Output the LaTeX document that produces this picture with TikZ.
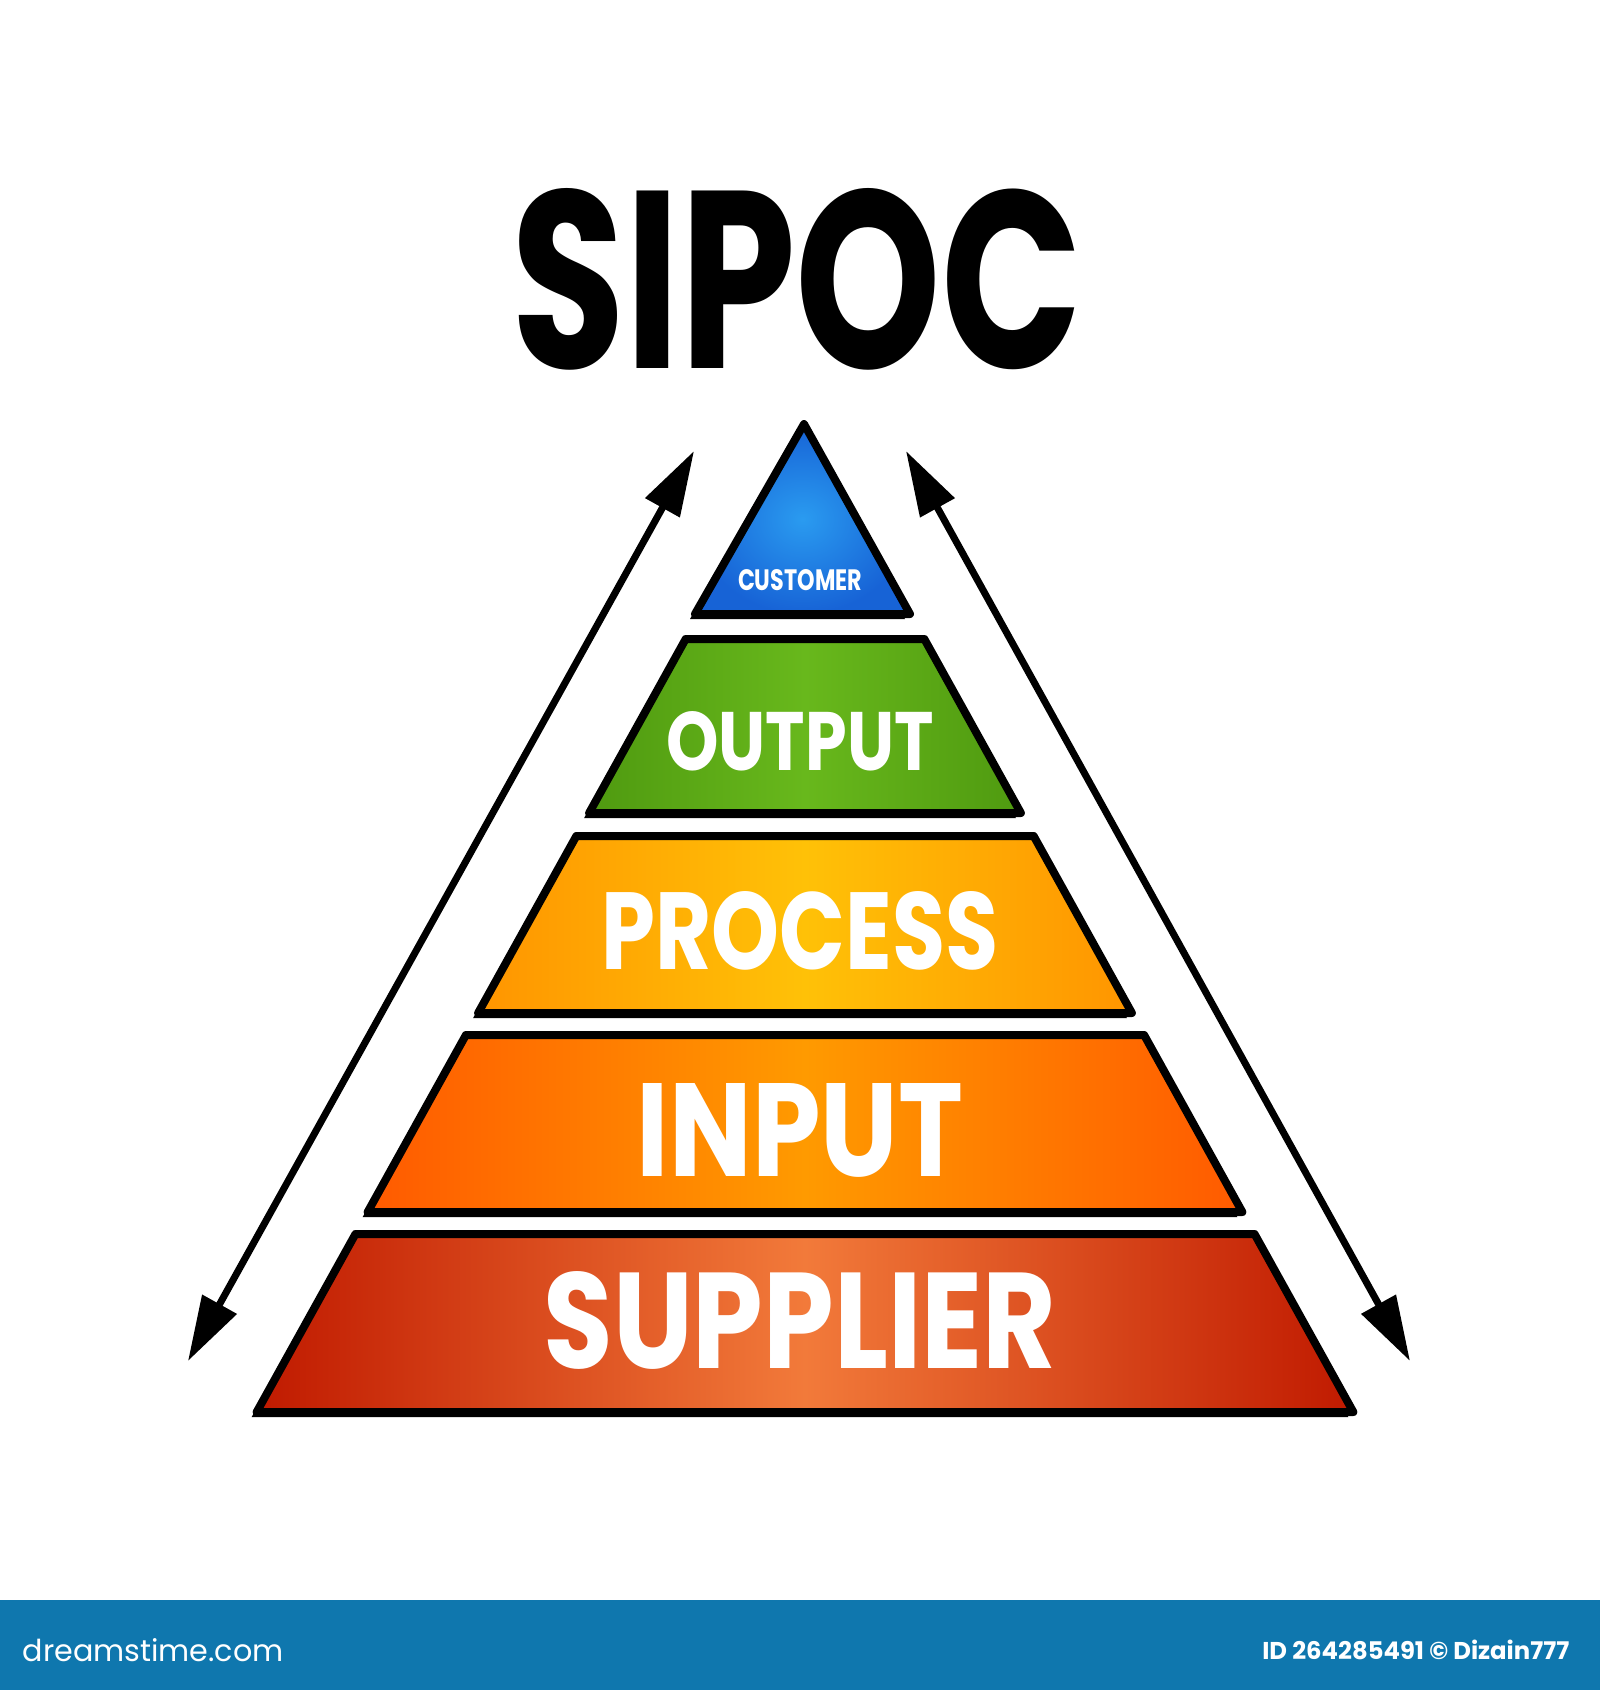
\documentclass[tikz,border=0pt]{standalone}
\usepackage{fontspec}
\setmainfont{Poppins}
\usepackage{graphicx}
\usetikzlibrary{arrows.meta}
\definecolor{barblue}{HTML}{0F77AE}
\definecolor{custlight}{HTML}{2A9BF0}
\definecolor{custdark}{HTML}{1763D6}
\definecolor{outlight}{HTML}{68B81C}
\definecolor{outdark}{HTML}{4F9A10}
\definecolor{proclight}{HTML}{FFC107}
\definecolor{procdark}{HTML}{FF9500}
\definecolor{inplight}{HTML}{FF9A00}
\definecolor{inpdark}{HTML}{FF5A00}
\definecolor{suplight}{HTML}{F27A3A}
\definecolor{supdark}{HTML}{C01A00}
\newlength{\pxunit}
\setlength{\pxunit}{0.1mm}
\newcommand{\fitbox}[3]{\resizebox{#1\pxunit}{#2\pxunit}{#3}}

\begin{document}
\begin{tikzpicture}[x=\pxunit,y=-\pxunit]
  \tikzstyle{layer}=[draw=black, line width=8\pxunit, line join=round]
  \tikzstyle{layershadow}=[fill=black, xshift=-5\pxunit, yshift=-5\pxunit]
  \tikzstyle{layertext}=[text=white, font=\bfseries, inner sep=0pt]
  \tikzstyle{sidearrow}=[line width=0.7mm,
       {Triangle[length=6.5mm,width=3.8mm]}-{Triangle[length=6.5mm,width=3.8mm]}]
  \useasboundingbox (0,0) rectangle (1600,1690);
  \fill[white] (0,0) rectangle (1600,1690);

  % title
  \node[inner sep=0pt] (title) at (797,279) {\fitbox{571}{180}{\bfseries SIPOC}};

  % top of the pyramid
  \fill[layershadow] (804,424) -- (910,614) -- (695,614) -- cycle;
  \path[layer, inner color=custlight, outer color=custdark]
      (804,424) -- (910,614) -- (695,614) -- cycle;
  \node[layertext] (customer) at (800,580) {\fitbox{124}{21}{CUSTOMER}};

  % the other layers
  \foreach \nm/\yt/\yb/\cside/\cmid/\txt/\tw/\th/\ty in {
      output/639/813/outdark/outlight/OUTPUT/267/59/741,
      process/836/1013/procdark/proclight/PROCESS/397/78/931,
      input/1035/1212/inpdark/inplight/INPUT/326/93/1130,
      supplier/1234/1412/supdark/suplight/SUPPLIER/513/97/1320}
  {
    \pgfmathsetmacro{\wt}{0.555*(\yt-424)}
    \pgfmathsetmacro{\wb}{0.555*(\yb-424)}
    \fill[layershadow] ({805-\wt},\yt) -- ({805+\wt},\yt)
        -- ({805+\wb},\yb) -- ({805-\wb},\yb) -- cycle;
    \path[layer, left color=\cside, right color=\cside, middle color=\cmid]
        ({805-\wt},\yt) -- ({805+\wt},\yt)
        -- ({805+\wb},\yb) -- ({805-\wb},\yb) -- cycle;
    \node[layertext] (\nm) at (800,\ty) {\fitbox{\tw}{\th}{\txt}};
  }

  % side arrows
  \coordinate (ltop) at (694,451);
  \coordinate (lbot) at (188,1361);
  \coordinate (rtop) at (906,451);
  \coordinate (rbot) at (1410,1361);
  \draw[sidearrow] (lbot) -- (ltop);
  \draw[sidearrow] (rbot) -- (rtop);

  % footer bar
  \fill[barblue] (0,1600) rectangle (1600,1690);
  \node[text=white, inner sep=0pt, anchor=west] (site) at (22,1650)
      {\resizebox{261\pxunit}{!}{dreamstime.com}};
  \node[text=white, inner sep=0pt, anchor=east] (credit) at (1570,1650)
      {\resizebox{307\pxunit}{!}{\bfseries ID 264285491 © Dizain777}};
\end{tikzpicture}
\end{document}
